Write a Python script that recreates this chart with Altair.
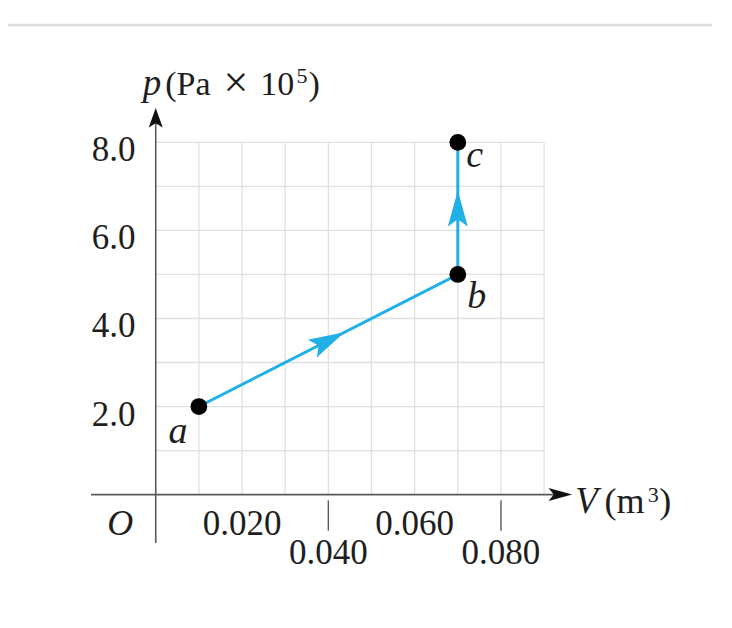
import math
import altair as alt
import pandas as pd

# ---------------- data ----------------
V_pts = [0.010, 0.070, 0.070]          # m^3
p_pts = [2.0, 5.0, 8.0]                # Pa x 10^5
pt_names = ["a", "b", "c"]

x_ticks_row1 = [0.020, 0.060]
x_labels_row1 = ["0.020", "0.060"]
x_ticks_row2 = [0.040, 0.080]
x_labels_row2 = ["0.040", "0.080"]
y_ticks = [2.0, 4.0, 6.0, 8.0]
y_labels = ["2.0", "4.0", "6.0", "8.0"]
grid_V = [0.01, 0.02, 0.03, 0.04, 0.05, 0.06, 0.07, 0.08, 0.09]
grid_p = [1.0, 2.0, 3.0, 4.0, 5.0, 6.0, 7.0, 8.0]

# ---------------- layout / style ----------------
X_DOM = [-0.015, 0.096]
Y_DOM = [-1.1, 8.6]
W, H = 479, 427
kx = W / (X_DOM[1] - X_DOM[0])
ky = H / (Y_DOM[1] - Y_DOM[0])

CYAN = "#20AFE7"
GRID = "#e0e0e0"
AXIS = "#5a5a5a"
FONT = "Liberation Serif"
TXT = "#1e1e1e"

xs = alt.Scale(domain=X_DOM, nice=False, zero=False)
ys = alt.Scale(domain=Y_DOM, nice=False, zero=False)


def X(f):
    return alt.X(f, type="quantitative", scale=xs, axis=None)


def Y(f):
    return alt.Y(f, type="quantitative", scale=ys, axis=None)


def text_layer(df, size, align="left", baseline="alphabetic", italic=False, **kw):
    extra = {"fontStyle": "italic"} if italic else {}
    return alt.Chart(df).mark_text(
        align=align, baseline=baseline, font=FONT, fontSize=size, color=TXT,
        **extra, **kw).encode(x=X("V"), y=Y("p"), text="t:N")


# grid
vgrid = pd.DataFrame({"V": grid_V, "p0": 0.0, "p1": max(grid_p)})
hgrid = pd.DataFrame({"p": grid_p, "V0": 0.0, "V1": max(grid_V)})
l_vgrid = alt.Chart(vgrid).mark_rule(color=GRID, strokeWidth=1.3).encode(
    x=X("V"), y=Y("p0"), y2="p1")
l_hgrid = alt.Chart(hgrid).mark_rule(color=GRID, strokeWidth=1.3).encode(
    y=Y("p"), x=X("V0"), x2="V1")

# axes lines
xaxis = pd.DataFrame({"V0": [X_DOM[0]], "V1": [0.094], "p": [0.0]})
yaxis = pd.DataFrame({"p0": [Y_DOM[0]], "p1": [8.5], "V": [0.0]})
l_xaxis = alt.Chart(xaxis).mark_rule(color=AXIS, strokeWidth=1.6).encode(
    x=X("V0"), x2="V1", y=Y("p"))
l_yaxis = alt.Chart(yaxis).mark_rule(color=AXIS, strokeWidth=1.6).encode(
    y=Y("p0"), y2="p1", x=X("V"))

# axis arrowheads (tip at symbol origin)
ARROW_TIP = "M0,0 L0.55,2 L0,1.55 L-0.55,2 Z"
ARROW_TIP_Y = "M0,0 L0.72,2 L0,1.55 L-0.72,2 Z"
xarrow = pd.DataFrame({"V": [0.0965], "p": [0.0]})
yarrow = pd.DataFrame({"V": [0.0], "p": [8.78]})
l_xarrow = alt.Chart(xarrow).mark_point(
    shape=ARROW_TIP, filled=True, color="#111", opacity=1, size=560,
    strokeWidth=0, angle=90).encode(x=X("V"), y=Y("p"))
l_yarrow = alt.Chart(yarrow).mark_point(
    shape=ARROW_TIP_Y, filled=True, color="#111", opacity=1, size=380,
    strokeWidth=0, angle=0).encode(x=X("V"), y=Y("p"))

# lower-row tick marks
ticks2 = pd.DataFrame({"V": x_ticks_row2, "p0": -0.13, "p1": -0.82})
l_ticks2 = alt.Chart(ticks2).mark_rule(color=AXIS, strokeWidth=1.4).encode(
    x=X("V"), y=Y("p0"), y2="p1")

# tick labels
xl1 = pd.DataFrame({"V": x_ticks_row1, "t": x_labels_row1, "p": -0.67})
xl2 = pd.DataFrame({"V": x_ticks_row2, "t": x_labels_row2, "p": -1.32})
yl = pd.DataFrame({"p": y_ticks, "t": y_labels, "V": -0.0047})
l_xl1 = text_layer(xl1, 35, align="center", baseline="middle")
l_xl2 = text_layer(xl2, 35, align="center", baseline="middle")
l_yl = text_layer(yl, 35, align="right", baseline="middle", dy=8)

origin = pd.DataFrame({"V": [-0.0082], "p": [-0.67], "t": ["O"]})
l_origin = text_layer(origin, 36, align="center", baseline="middle", italic=True)

# axis titles (pieces so the superscripts sit like the printed figure)
p_title_it = pd.DataFrame({"V": [-0.0030], "p": [9.07], "t": ["p"]})
p_title_up = pd.DataFrame({"V": [0.0022, 0.0186, 0.0242, 0.0354],
                           "p": [9.07, 9.03, 9.07, 9.07],
                           "t": ["(Pa", "×", "10", ")"]})
p_title_sup = pd.DataFrame({"V": [0.0326], "p": [9.34], "t": ["5"]})
v_title_it = pd.DataFrame({"V": [0.0972], "p": [-0.42], "t": ["V"]})
v_title_up = pd.DataFrame({"V": [0.1040, 0.1167], "p": [-0.42, -0.42],
                           "t": ["(m", ")"]})
v_title_sup = pd.DataFrame({"V": [0.1140], "p": [-0.17], "t": ["3"]})

l_titles = [
    text_layer(p_title_it, 37, italic=True),
    text_layer(p_title_up[p_title_up.t != "×"], 34),
    text_layer(p_title_up[p_title_up.t == "×"], 44, align="center"),
    text_layer(p_title_sup, 22),
    text_layer(v_title_it, 37, italic=True),
    text_layer(v_title_up, 36),
    text_layer(v_title_sup, 22),
]

# process path
path = pd.DataFrame({"V": V_pts, "p": p_pts, "o": list(range(len(V_pts)))})
l_path = alt.Chart(path).mark_line(color=CYAN, strokeWidth=3).encode(
    x=X("V"), y=Y("p"), order="o:Q")

# direction arrows at segment midpoints
mids = []
for i in range(len(V_pts) - 1):
    dx = (V_pts[i + 1] - V_pts[i]) * kx
    dy = (p_pts[i + 1] - p_pts[i]) * ky
    ang = math.degrees(math.atan2(dx, dy)) % 360
    mids.append({"V": (V_pts[i] + V_pts[i + 1]) / 2,
                 "p": (p_pts[i] + p_pts[i + 1]) / 2, "ang": ang})
mids = pd.DataFrame(mids)
ARROW_MID = "M0,-1 L0.55,1 L0,0.6 L-0.55,1 Z"
l_mid = alt.Chart(mids).mark_point(
    shape=ARROW_MID, filled=True, color=CYAN, opacity=1, size=1300,
    strokeWidth=0).encode(x=X("V"), y=Y("p"),
                          angle=alt.Angle("ang:Q", scale=None))

# state points
l_pts = alt.Chart(path).mark_circle(size=280, color="black", opacity=1).encode(
    x=X("V"), y=Y("p"))

# point labels
lab = pd.DataFrame({"V": V_pts, "p": p_pts, "t": pt_names})
lab_off = {"a": (-21, 36), "b": (19, 34), "c": (17, 25)}
l_labs = []
for name in pt_names:
    ox, oy = lab_off[name]
    l_labs.append(text_layer(lab[lab.t == name], 38, align="center",
                             italic=True, dx=ox, dy=oy))

# faint page separator line seen at top of the picture
topline = alt.Chart(pd.DataFrame({"k": [0]})).mark_rule(
    color="#dcdcdc", strokeWidth=2.5).encode(
    x=alt.value(-88), x2=alt.value(621), y=alt.value(-91))

chart = alt.layer(
    topline, l_vgrid, l_hgrid, l_xaxis, l_yaxis, l_ticks2, l_xarrow, l_yarrow,
    l_xl1, l_xl2, l_yl, l_origin, *l_titles,
    l_path, l_mid, l_pts, *l_labs
).properties(
    width=W, height=H,
    padding={"left": 83, "top": 108, "right": 154, "bottom": 77},
    autosize=alt.AutoSizeParams(type="none"),
    background="white",
).configure_view(stroke=None)

chart.save("out.html", embed_options={"renderer": "svg", "actions": False})
